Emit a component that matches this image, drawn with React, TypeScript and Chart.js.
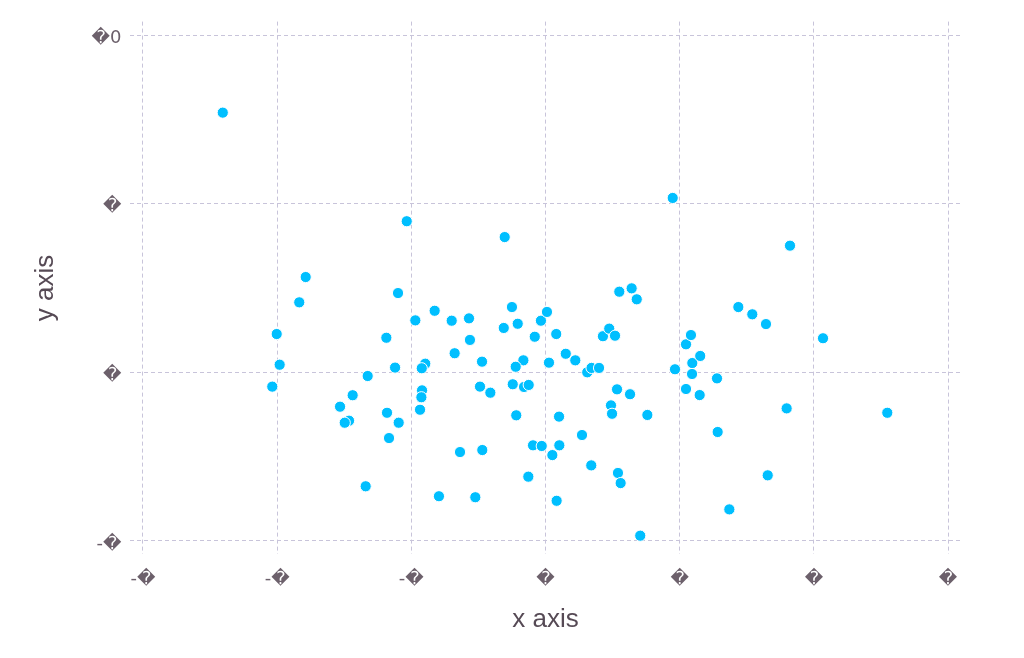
import { useEffect, useRef } from "react";
import { Chart, registerables } from "chart.js";

Chart.register(...registerables);

const xValues = [
  -2.405, -1.034, -0.304, 0.948, 1.822, -1.787, -1.835, -2.003, -1.981, -2.036,
  -1.099, -1.186, -0.97, -0.826, -0.699, -0.57, -0.563, -0.677, -0.473, -0.896,
  -0.922, -1.121, -1.325, -1.437, -1.531, -1.464, -1.496, -1.181, -1.094, -1.166,
  -1.34, -0.92, -0.925, -0.935, -0.794, -0.637, -0.523, -0.471, -0.411, -0.488,
  -0.311, -0.25, -0.207, -0.034, 0.011, -0.08, 0.08, -0.165, -0.222, 0.026,
  -0.244, -0.16, -0.125, -0.218, -0.093, -0.028, 0.051, 0.103, 0.101, -0.128,
  0.083, 0.151, 0.222, 0.311, 0.343, 0.399, 0.272, 0.341, 0.428, 0.475,
  0.518, 0.55, 0.642, 0.68, 0.533, 0.488, 0.496, 0.63, 0.54, 0.56,
  0.759, 0.706, 0.965, 1.047, 1.084, 1.094, 1.153, 1.092, 1.047, 1.149,
  1.278, 1.283, 1.37, 1.437, 1.541, 1.643, 1.797, 1.656, 2.068, 2.547,
];

const yValues = [
  1.54, 0.896, 0.802, 1.034, 0.751, 0.565, 0.415, 0.227, 0.045, -0.085,
  0.47, 0.205, 0.308, 0.365, 0.306, 0.32, 0.192, 0.113, 0.063, 0.051,
  0.024, 0.028, -0.022, -0.136, -0.204, -0.287, -0.299, -0.24, -0.299, -0.39,
  -0.676, -0.107, -0.148, -0.222, -0.735, -0.473, -0.741, -0.461, -0.121, -0.085,
  0.263, 0.387, 0.288, 0.306, 0.358, 0.211, 0.227, 0.071, 0.033, 0.057,
  -0.071, -0.087, -0.075, -0.255, -0.433, -0.437, -0.491, -0.433, -0.263, -0.619,
  -0.762, 0.11, 0.071, 0.0, 0.026, 0.026, -0.372, -0.552, 0.214, 0.259,
  0.217, 0.478, 0.498, 0.433, -0.101, -0.196, -0.246, -0.13, -0.597, -0.657,
  -0.253, -0.969, 0.018, 0.166, 0.221, 0.055, 0.097, -0.01, -0.099, -0.135,
  -0.036, -0.354, -0.813, 0.387, 0.344, 0.286, -0.214, -0.611, 0.202, -0.24,
];

const xTickValues = [-3, -2, -1, 0, 1, 2, 3];
const xTickLabels = ["-\uFFFD", "-\uFFFD", "-\uFFFD", "\uFFFD", "\uFFFD", "\uFFFD", "\uFFFD"];
const yTickValues = [-1, 0, 1, 2];
const yTickLabels = ["-\uFFFD", "\uFFFD", "\uFFFD", "\uFFFD0"];

const xTitle = "x axis";
const yTitle = "y axis";

export default function App() {
  const canvasRef = useRef<HTMLCanvasElement | null>(null);

  useEffect(() => {
    document.body.style.margin = "0";
    const canvas = canvasRef.current;
    if (!canvas) return;
    const points = xValues.map((x, i) => ({ x, y: yValues[i] }));
    const tickColor = "#6C606B";
    const titleColor = "#564A55";
    const gridColor = "#C8C4DA";

    const chart = new Chart(canvas, {
      type: "scatter",
      data: {
        datasets: [
          {
            data: points,
            backgroundColor: "#00BFFF",
            borderColor: "#FFFFFF",
            borderWidth: 1,
            pointRadius: 5.6,
            pointHoverRadius: 5.6,
          },
        ],
      },
      options: {
        animation: false,
        responsive: true,
        maintainAspectRatio: false,
        layout: { padding: { top: 21.6, right: 62.5, left: 0, bottom: 0 } },
        plugins: {
          legend: { display: false },
          tooltip: { enabled: false },
        },
        scales: {
          x: {
            type: "linear",
            min: -3.1,
            max: 3.1,
            grid: {
              color: gridColor,
              lineWidth: 1,
              drawTicks: false,
            },
            border: { display: false, dash: [4, 3] },
            ticks: {
              color: tickColor,
              font: { family: "DejaVu Sans", size: 18 },
              padding: 14,
              autoSkip: false,
              maxRotation: 0,
              callback: (v: any) => {
                const i = xTickValues.indexOf(Number(v));
                return i >= 0 ? xTickLabels[i] : "";
              },
            },
            afterBuildTicks: (scale: any) => {
              scale.ticks = xTickValues.map((v) => ({ value: v }));
            },
            afterFit: (scale: any) => {
              scale.height = 103.6;
            },
            title: {
              display: true,
              text: xTitle,
              color: titleColor,
              font: { family: "Liberation Sans", size: 26 },
              padding: { top: 0, bottom: 23 },
            },
          },
          y: {
            type: "linear",
            min: -1.08,
            max: 2.08,
            grid: {
              color: gridColor,
              lineWidth: 1,
              drawTicks: false,
            },
            border: { display: false, dash: [4, 3] },
            ticks: {
              color: tickColor,
              font: { family: "DejaVu Sans", size: 18 },
              padding: 8,
              labelOffset: 3,
              autoSkip: false,
              callback: (v: any) => {
                const i = yTickValues.indexOf(Number(v));
                return i >= 0 ? yTickLabels[i] : "";
              },
            },
            afterBuildTicks: (scale: any) => {
              scale.ticks = yTickValues.map((v) => ({ value: v }));
            },
            afterFit: (scale: any) => {
              scale.width = 129.5;
            },
            title: {
              display: true,
              text: yTitle,
              color: titleColor,
              font: { family: "Liberation Sans", size: 26 },
              padding: { top: 30, bottom: 0 },
            },
          },
        },
      },
    });
    return () => chart.destroy();
  }, []);

  return (
    <div style={{ position: "relative", width: "1024px", height: "658px" }}>
      <canvas ref={canvasRef} />
    </div>
  );
}
